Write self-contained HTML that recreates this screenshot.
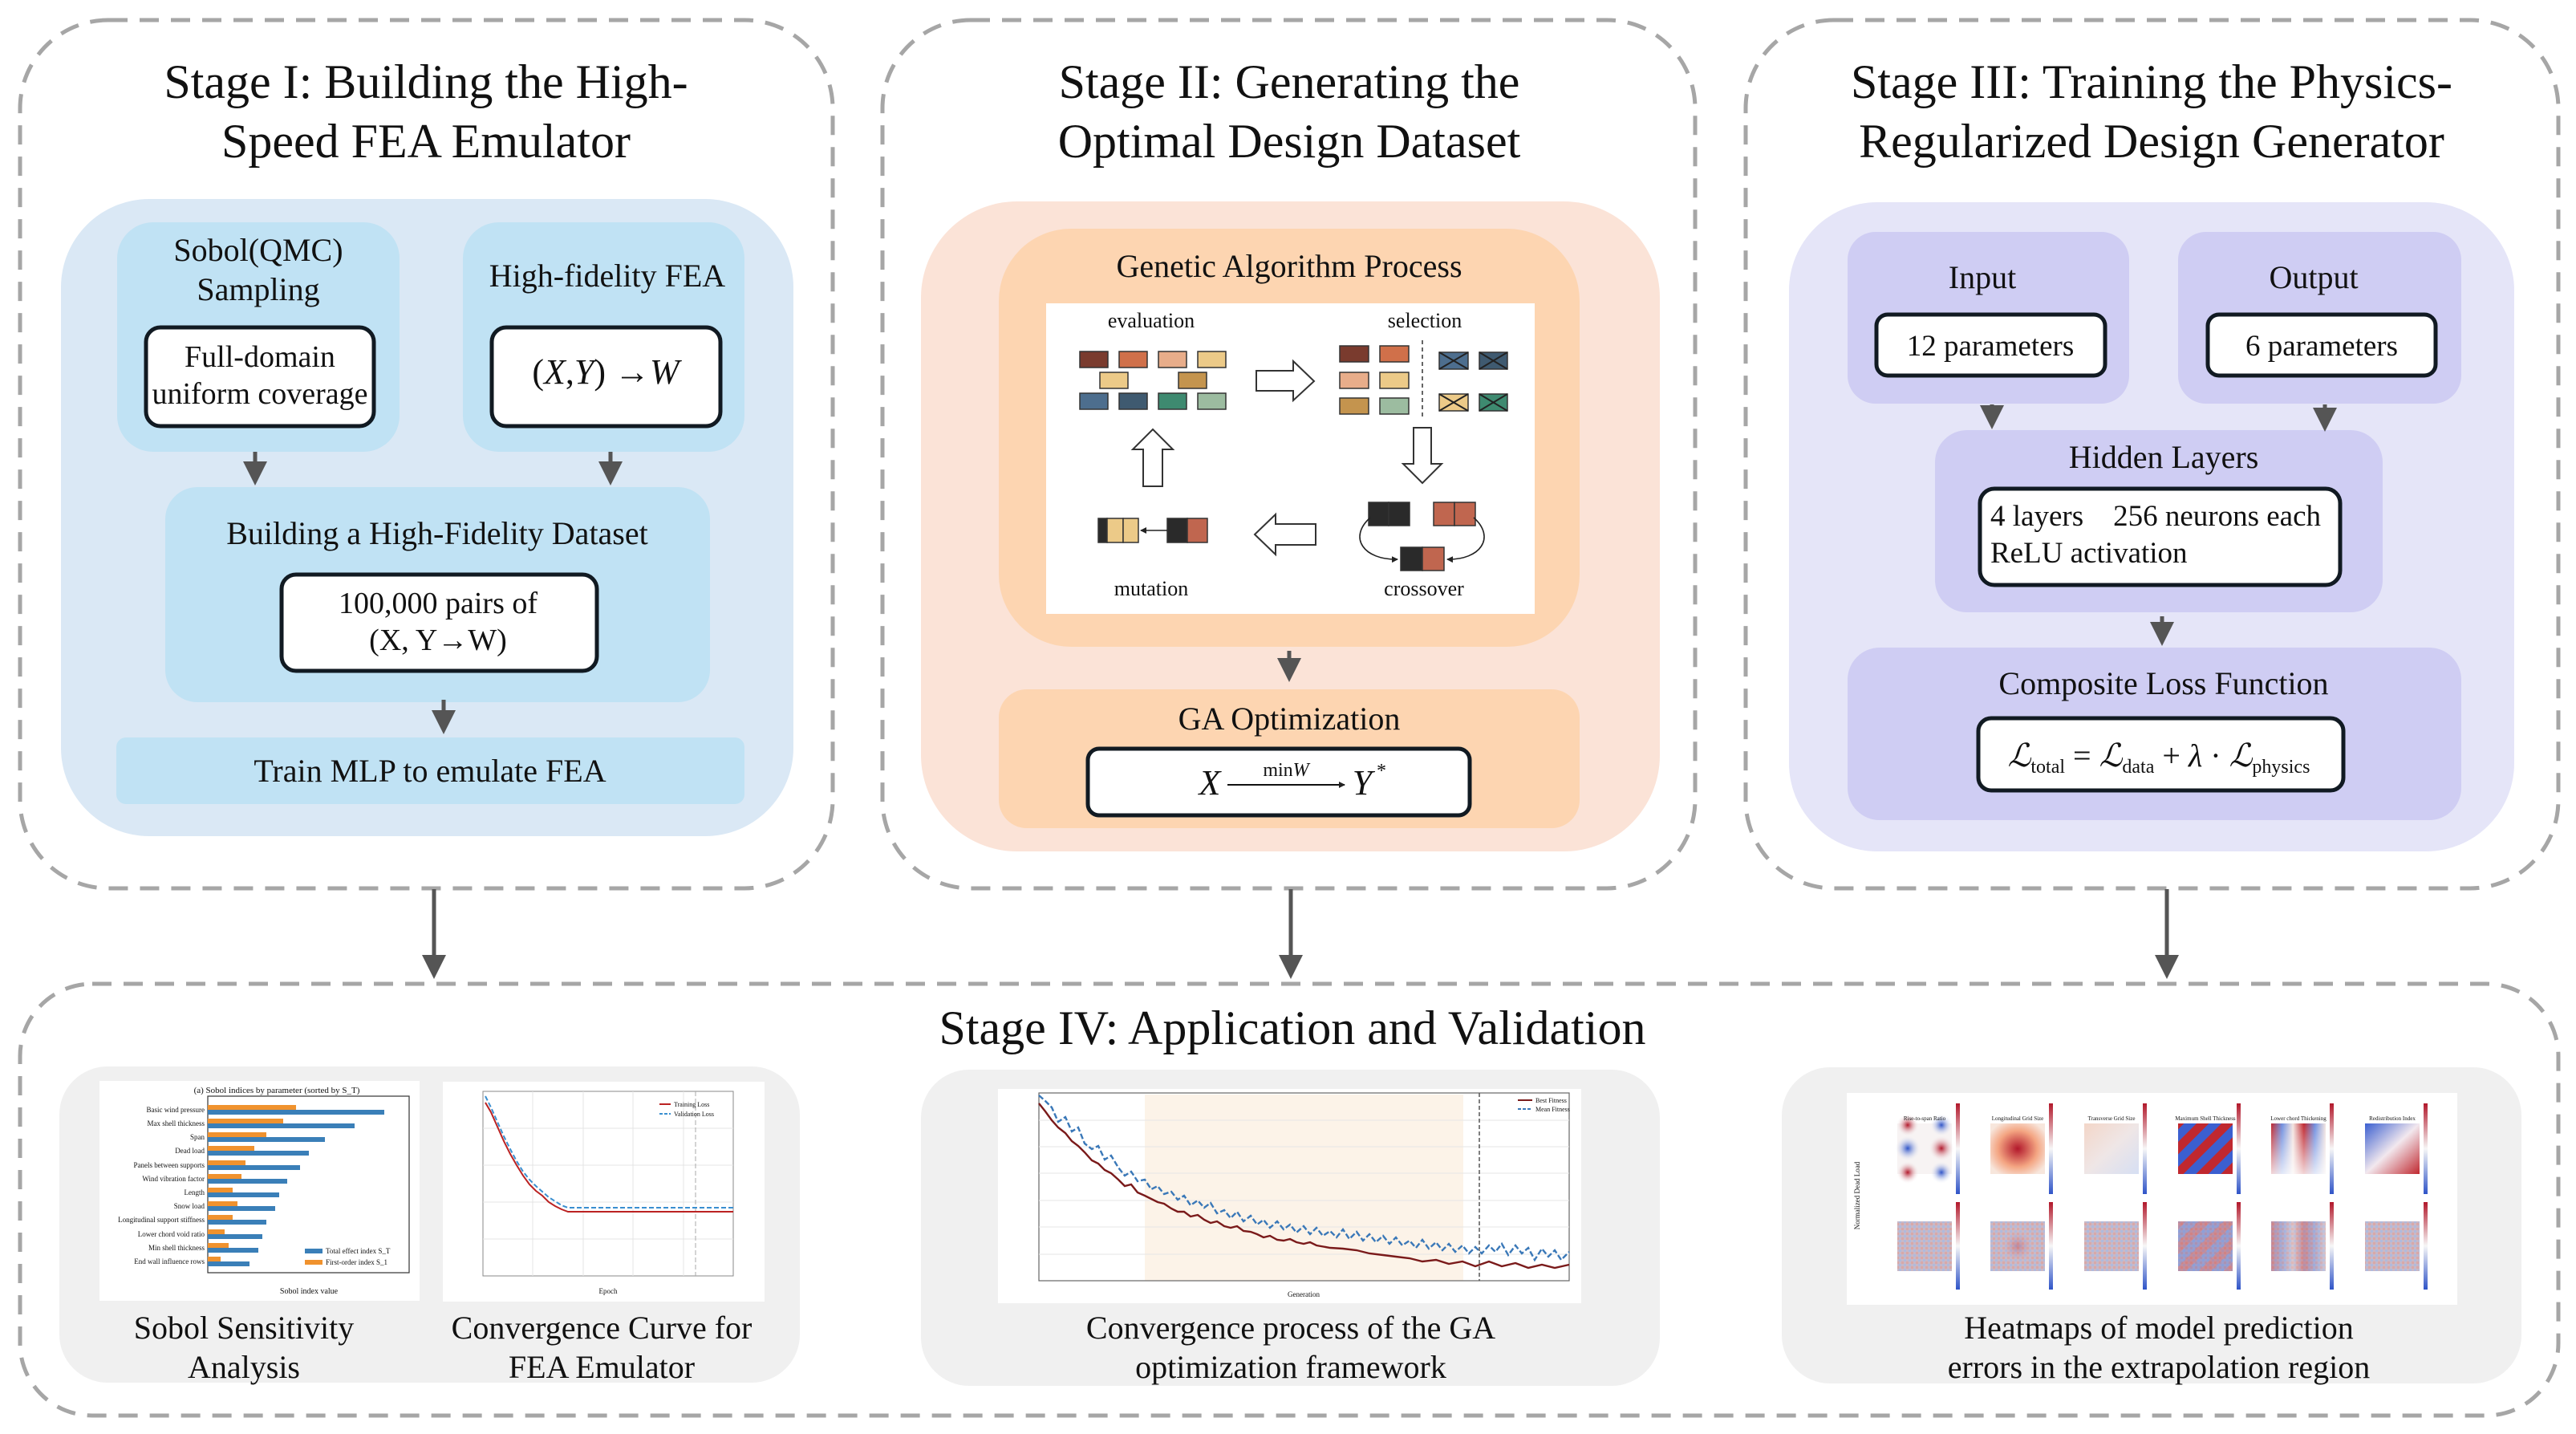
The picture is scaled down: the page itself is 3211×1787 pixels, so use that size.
<!DOCTYPE html>
<html><head><meta charset="utf-8"><style>
html,body{margin:0;padding:0;background:#fff}
svg{display:block;font-family:"Liberation Serif","Times New Roman",Times,serif}
text{fill:#111}
</style></head><body>
<svg width="3211" height="1787" viewBox="0 0 3211 1787" xmlns="http://www.w3.org/2000/svg" font-family="Liberation Serif, Times New Roman, serif">
<defs>
<marker id="ah" markerWidth="6" markerHeight="6" refX="5" refY="3" orient="auto" markerUnits="strokeWidth"><path d="M0,0 L6,3 L0,6 z" fill="#555"/></marker>
<marker id="sh" markerWidth="8" markerHeight="8" refX="7" refY="4" orient="auto" markerUnits="userSpaceOnUse"><path d="M0,0 L8,4 L0,8 z" fill="#222"/></marker>
<radialGradient id="rr"><stop offset="0" stop-color="#b2182b"/><stop offset="1" stop-color="#f7f7f7" stop-opacity="0"/></radialGradient>
<radialGradient id="bb"><stop offset="0" stop-color="#2f54c8"/><stop offset="1" stop-color="#f7f7f7" stop-opacity="0"/></radialGradient>
<radialGradient id="rc" cx="0.5" cy="0.5" r="0.6"><stop offset="0" stop-color="#b2182b"/><stop offset="0.6" stop-color="#f4a582"/><stop offset="1" stop-color="#f7e6dc"/></radialGradient>
<linearGradient id="cb" x1="0" y1="0" x2="0" y2="1"><stop offset="0" stop-color="#b2182b"/><stop offset="0.5" stop-color="#f7f7f7"/><stop offset="1" stop-color="#2f54c8"/></linearGradient>
<linearGradient id="diag" x1="0" y1="0" x2="1" y2="1"><stop offset="0" stop-color="#3b5fd0"/><stop offset="0.5" stop-color="#f2e8ee"/><stop offset="1" stop-color="#c0282f"/></linearGradient>
<linearGradient id="pale" x1="0" y1="0" x2="1" y2="1"><stop offset="0" stop-color="#f3d6c8"/><stop offset="0.5" stop-color="#efe6e6"/><stop offset="1" stop-color="#d6dff3"/></linearGradient>
<linearGradient id="vs" x1="0" y1="0" x2="1" y2="0"><stop offset="0" stop-color="#c0282f"/><stop offset="0.2" stop-color="#6f8fe0"/><stop offset="0.4" stop-color="#f3e4e0"/><stop offset="0.6" stop-color="#c0282f"/><stop offset="0.8" stop-color="#6f8fe0"/><stop offset="1" stop-color="#f3e4e0"/></linearGradient>
<linearGradient id="vfade" x1="0" y1="0" x2="0" y2="1"><stop offset="0" stop-color="#fff" stop-opacity="0"/><stop offset="1" stop-color="#fff" stop-opacity="0.8"/></linearGradient>
<pattern id="stripes" width="22" height="22" patternUnits="userSpaceOnUse" patternTransform="rotate(45)"><rect width="11" height="22" fill="#c0282f"/><rect x="11" width="11" height="22" fill="#3b5fd0"/></pattern>
<pattern id="noise" width="6" height="6" patternUnits="userSpaceOnUse"><rect width="6" height="6" fill="#c9b8c6"/><rect width="3" height="3" fill="#d8a8a8"/><rect x="3" y="3" width="3" height="3" fill="#b0badc"/></pattern>
</defs>

<g fill="none" stroke="#a6a6a6" stroke-width="5" stroke-dasharray="24 15">
<rect x="25" y="25" width="1013" height="1082" rx="110"/>
<rect x="1100" y="25" width="1013" height="1082" rx="110"/>
<rect x="2176" y="25" width="1013" height="1082" rx="110"/>
<rect x="25" y="1226" width="3164" height="538" rx="90"/>
</g>

<g font-size="60" text-anchor="middle">
<text x="531" y="122">Stage I: Building the High-</text>
<text x="531" y="196">Speed FEA Emulator</text>
<text x="1607" y="122">Stage II: Generating the</text>
<text x="1607" y="196">Optimal Design Dataset</text>
<text x="2682" y="122">Stage III: Training the Physics-</text>
<text x="2682" y="196">Regularized Design Generator</text>
<text x="1611" y="1301">Stage IV: Application and Validation</text>
</g>

<!-- Stage I -->
<rect x="76" y="248" width="913" height="794" rx="110" fill="#dae8f5"/>
<rect x="146" y="277" width="352" height="286" rx="45" fill="#c0e2f4"/>
<rect x="577" y="277" width="351" height="286" rx="45" fill="#c0e2f4"/>
<rect x="206" y="607" width="679" height="268" rx="40" fill="#c0e2f4"/>
<rect x="145" y="919" width="783" height="83" rx="12" fill="#c0e2f4"/>
<g fill="#fff" stroke="#111a22" stroke-width="5">
<rect x="182" y="408" width="284" height="123" rx="18"/>
<rect x="613" y="408" width="285" height="123" rx="18"/>
<rect x="351" y="716" width="393" height="120" rx="18"/>
</g>
<g font-size="40" text-anchor="middle">
<text x="322" y="325">Sobol(QMC)</text>
<text x="322" y="374">Sampling</text>
<text x="757" y="357">High-fidelity FEA</text>
<text x="545" y="678">Building a High-Fidelity Dataset</text>
<text x="536" y="974">Train MLP to emulate FEA</text>
</g>
<g font-size="38" text-anchor="middle">
<text x="324" y="457">Full-domain</text>
<text x="324" y="503">uniform coverage</text>
<text x="546" y="764">100,000 pairs of</text>
<text x="546" y="810">(X, Y→W)</text>
<text x="755" y="478" font-size="44"><tspan>(</tspan><tspan font-style="italic">X</tspan><tspan>,</tspan><tspan font-style="italic">Y</tspan><tspan>) →</tspan><tspan font-style="italic">W</tspan></text>
</g>
<g stroke="#555" stroke-width="5" marker-end="url(#ah)">
<line x1="318" y1="563" x2="318" y2="600"/>
<line x1="761" y1="563" x2="761" y2="600"/>
<line x1="553" y1="872" x2="553" y2="910"/>
</g>

<!-- Stage II -->
<rect x="1148" y="251" width="921" height="810" rx="120" fill="#fbe3d7"/>
<rect x="1245" y="285" width="724" height="521" rx="90" fill="#fdd5b1"/>
<rect x="1245" y="859" width="724" height="173" rx="35" fill="#fdd5b1"/>
<text x="1607" y="345" font-size="40" text-anchor="middle">Genetic Algorithm Process</text>
<text x="1607" y="909" font-size="40" text-anchor="middle">GA Optimization</text>
<rect x="1356" y="933" width="476" height="83" rx="14" fill="#fff" stroke="#111a22" stroke-width="5"/>
<text x="1508" y="990" font-size="44" font-style="italic" text-anchor="middle">X</text>
<line x1="1530" y1="978" x2="1676" y2="978" stroke="#111" stroke-width="2" marker-end="url(#sh)"/>
<text x="1603" y="967" font-size="24" text-anchor="middle">min<tspan font-style="italic">W</tspan></text>
<text x="1698" y="990" font-size="44" font-style="italic" text-anchor="middle">Y</text>
<text x="1716" y="968" font-size="24">*</text>
<line x1="1607" y1="811" x2="1607" y2="845" stroke="#555" stroke-width="5" marker-end="url(#ah)"/>

<rect x="1304" y="378" width="609" height="387" fill="#fff"/>
<g font-size="26" text-anchor="middle">
<text x="1435" y="408">evaluation</text>
<text x="1776" y="408">selection</text>
<text x="1435" y="742">mutation</text>
<text x="1775" y="742">crossover</text>
</g>
<g stroke="#333" stroke-width="1.5">
<rect x="1346" y="438" width="35" height="20" fill="#7a3b2e"/>
<rect x="1395" y="438" width="35" height="20" fill="#d0704a"/>
<rect x="1444" y="438" width="35" height="20" fill="#e8ad8a"/>
<rect x="1493" y="438" width="35" height="20" fill="#ecca88"/>
<rect x="1371" y="464" width="35" height="20" fill="#ecca88"/>
<rect x="1469" y="464" width="35" height="20" fill="#c4944e"/>
<rect x="1346" y="490" width="35" height="20" fill="#4d6e8e"/>
<rect x="1395" y="490" width="35" height="20" fill="#3f5a70"/>
<rect x="1444" y="490" width="35" height="20" fill="#3e8a70"/>
<rect x="1493" y="490" width="35" height="20" fill="#9cbca0"/>
<rect x="1670" y="431" width="36" height="20" fill="#7a3b2e"/>
<rect x="1720" y="431" width="36" height="20" fill="#d0704a"/>
<rect x="1670" y="464" width="36" height="20" fill="#e8ad8a"/>
<rect x="1720" y="464" width="36" height="20" fill="#ecca88"/>
<rect x="1670" y="496" width="36" height="20" fill="#c4944e"/>
<rect x="1720" y="496" width="36" height="20" fill="#9cbca0"/>
<rect x="1794" y="439" width="36" height="21" fill="#4d6e8e"/>
<rect x="1844" y="439" width="35" height="21" fill="#3f5a70"/>
<rect x="1794" y="491" width="36" height="21" fill="#ecca88"/>
<rect x="1844" y="491" width="35" height="21" fill="#3e8a70"/>
</g>
<g stroke="#222" stroke-width="2">
<line x1="1794" y1="439" x2="1830" y2="460"/><line x1="1830" y1="439" x2="1794" y2="460"/>
<line x1="1844" y1="439" x2="1879" y2="460"/><line x1="1879" y1="439" x2="1844" y2="460"/>
<line x1="1794" y1="491" x2="1830" y2="512"/><line x1="1830" y1="491" x2="1794" y2="512"/>
<line x1="1844" y1="491" x2="1879" y2="512"/><line x1="1879" y1="491" x2="1844" y2="512"/>
</g>
<line x1="1773" y1="424" x2="1773" y2="519" stroke="#333" stroke-width="1.5" stroke-dasharray="5 4"/>
<g fill="#fff" stroke="#333" stroke-width="2">
<polygon points="1566,462 1612,462 1612,450 1638,475 1612,499 1612,487 1566,487"/>
<polygon points="1762,533 1784,533 1784,578 1797,578 1773,602 1749,578 1762,578"/>
<polygon points="1640,653 1590,653 1590,641 1564,666 1590,691 1590,679 1640,679"/>
<polygon points="1425,606 1449,606 1449,560 1462,560 1437,535 1412,560 1425,560"/>
</g>
<g stroke="#333" stroke-width="1.5">
<rect x="1706" y="626" width="25" height="29" fill="#2a2a2a"/>
<rect x="1731" y="626" width="26" height="29" fill="#2a2a2a"/>
<rect x="1787" y="626" width="26" height="29" fill="#c0664f"/>
<rect x="1813" y="626" width="26" height="29" fill="#c0664f"/>
<rect x="1746" y="682" width="27" height="29" fill="#2a2a2a"/>
<rect x="1773" y="682" width="27" height="29" fill="#c0664f"/>
<rect x="1369" y="646" width="11" height="30" fill="#2a2a2a"/>
<rect x="1380" y="646" width="20" height="30" fill="#ecca88"/>
<rect x="1400" y="646" width="19" height="30" fill="#ecca88"/>
<rect x="1455" y="646" width="25" height="30" fill="#2a2a2a"/>
<rect x="1480" y="646" width="25" height="30" fill="#c0664f"/>
</g>
<g fill="none" stroke="#222" stroke-width="1.6" marker-end="url(#sh)">
<path d="M1708,645 C1680,670 1700,698 1742,697"/>
<path d="M1837,645 C1865,670 1845,698 1804,697"/>
<line x1="1455" y1="661" x2="1422" y2="661"/>
</g>

<!-- Stage III -->
<rect x="2230" y="252" width="904" height="809" rx="110" fill="#e5e5f8"/>
<rect x="2303" y="289" width="351" height="214" rx="35" fill="#cfcdf3"/>
<rect x="2715" y="289" width="353" height="214" rx="35" fill="#cfcdf3"/>
<rect x="2412" y="536" width="558" height="227" rx="40" fill="#cfcdf3"/>
<rect x="2303" y="807" width="765" height="215" rx="40" fill="#cfcdf3"/>
<g fill="#fff" stroke="#111a22" stroke-width="5">
<rect x="2339" y="392" width="285" height="76" rx="14"/>
<rect x="2752" y="392" width="284" height="76" rx="14"/>
<rect x="2468" y="609" width="449" height="120" rx="18"/>
<rect x="2466" y="895" width="455" height="90" rx="16"/>
</g>
<g font-size="40" text-anchor="middle">
<text x="2471" y="359">Input</text>
<text x="2884" y="359">Output</text>
<text x="2697" y="583">Hidden Layers</text>
<text x="2697" y="865">Composite Loss Function</text>
</g>
<g font-size="37">
<text x="2481" y="443" text-anchor="middle">12 parameters</text>
<text x="2894" y="443" text-anchor="middle">6 parameters</text>
<text x="2481" y="655" xml:space="preserve">4 layers    256 neurons each</text>
<text x="2481" y="701">ReLU activation</text>
</g>
<text x="2691" y="955" font-size="40" text-anchor="middle"><tspan font-style="italic">ℒ</tspan><tspan font-size="24" dy="8">total</tspan><tspan dy="-8"> = </tspan><tspan font-style="italic">ℒ</tspan><tspan font-size="24" dy="8">data</tspan><tspan dy="-8"> + </tspan><tspan font-style="italic">λ</tspan><tspan> · </tspan><tspan font-style="italic">ℒ</tspan><tspan font-size="24" dy="8">physics</tspan></text>
<g stroke="#555" stroke-width="5" marker-end="url(#ah)">
<line x1="2483" y1="504" x2="2483" y2="530"/>
<line x1="2898" y1="504" x2="2898" y2="533"/>
<line x1="2695" y1="768" x2="2695" y2="800"/>
</g>

<g stroke="#555" stroke-width="5" marker-end="url(#ah)">
<line x1="541" y1="1108" x2="541" y2="1215"/>
<line x1="1609" y1="1108" x2="1609" y2="1215"/>
<line x1="2701" y1="1108" x2="2701" y2="1215"/>
</g>

<rect x="74" y="1329" width="923" height="394" rx="60" fill="#f0f0f0"/>
<rect x="1148" y="1333" width="921" height="394" rx="60" fill="#f0f0f0"/>
<rect x="2221" y="1330" width="922" height="394" rx="60" fill="#f0f0f0"/>
<g font-size="40" text-anchor="middle">
<text x="304" y="1668">Sobol Sensitivity</text>
<text x="304" y="1717">Analysis</text>
<text x="750" y="1668">Convergence Curve for</text>
<text x="750" y="1717">FEA Emulator</text>
<text x="1609" y="1668">Convergence process of the GA</text>
<text x="1609" y="1717">optimization framework</text>
<text x="2691" y="1668">Heatmaps of model prediction</text>
<text x="2691" y="1717">errors in the extrapolation region</text>
</g>

<rect x="124" y="1347" width="399" height="274" fill="#fff"/>
<text x="345" y="1362" font-size="11" text-anchor="middle" fill="#333">(a) Sobol indices by parameter (sorted by S_T)</text>
<rect x="259" y="1366" width="251" height="220" fill="none" stroke="#333" stroke-width="1.2"/>
<g fill="#3a7fb8">
<rect x="259" y="1383" width="220" height="6"/><rect x="259" y="1400" width="183" height="6"/><rect x="259" y="1417" width="146" height="6"/><rect x="259" y="1434" width="126" height="6"/><rect x="259" y="1452" width="115" height="6"/><rect x="259" y="1469" width="99" height="6"/><rect x="259" y="1486" width="89" height="6"/><rect x="259" y="1503" width="84" height="6"/><rect x="259" y="1520" width="73" height="6"/><rect x="259" y="1538" width="68" height="6"/><rect x="259" y="1555" width="63" height="6"/><rect x="259" y="1572" width="52" height="6"/>
</g>
<g fill="#f0922e">
<rect x="259" y="1377" width="110" height="6"/><rect x="259" y="1394" width="94" height="6"/><rect x="259" y="1411" width="73" height="6"/><rect x="259" y="1428" width="58" height="6"/><rect x="259" y="1446" width="47" height="6"/><rect x="259" y="1463" width="42" height="6"/><rect x="259" y="1480" width="31" height="6"/><rect x="259" y="1497" width="37" height="6"/><rect x="259" y="1514" width="31" height="6"/><rect x="259" y="1532" width="21" height="6"/><rect x="259" y="1549" width="26" height="6"/><rect x="259" y="1566" width="16" height="6"/>
</g>
<g font-size="9" text-anchor="end" fill="#444">
<text x="255" y="1386">Basic wind pressure</text><text x="255" y="1403">Max shell thickness</text><text x="255" y="1420">Span</text><text x="255" y="1437">Dead load</text><text x="255" y="1455">Panels between supports</text><text x="255" y="1472">Wind vibration factor</text><text x="255" y="1489">Length</text><text x="255" y="1506">Snow load</text><text x="255" y="1523">Longitudinal support stiffness</text><text x="255" y="1541">Lower chord void ratio</text><text x="255" y="1558">Min shell thickness</text><text x="255" y="1575">End wall influence rows</text>
</g>
<rect x="380" y="1556" width="22" height="6" fill="#3a7fb8"/><rect x="380" y="1570" width="22" height="6" fill="#f0922e"/>
<text x="406" y="1562" font-size="9" fill="#444">Total effect index S_T</text>
<text x="406" y="1576" font-size="9" fill="#444">First-order index S_1</text>
<text x="385" y="1612" font-size="10" text-anchor="middle" fill="#444">Sobol index value</text>

<rect x="552" y="1348" width="401" height="274" fill="#fff"/>
<rect x="602" y="1360" width="312" height="230" fill="none" stroke="#888" stroke-width="1"/>
<g stroke="#e4e4e4" stroke-width="1"><line x1="664" y1="1360" x2="664" y2="1590"/><line x1="727" y1="1360" x2="727" y2="1590"/><line x1="789" y1="1360" x2="789" y2="1590"/><line x1="852" y1="1360" x2="852" y2="1590"/><line x1="602" y1="1406" x2="914" y2="1406"/><line x1="602" y1="1452" x2="914" y2="1452"/><line x1="602" y1="1498" x2="914" y2="1498"/><line x1="602" y1="1544" x2="914" y2="1544"/></g>
<line x1="867" y1="1360" x2="867" y2="1590" stroke="#aaa" stroke-dasharray="6 3"/>
<polyline fill="none" stroke="#b22" stroke-width="2" points="605,1374 612,1386 620,1404 628,1422 636,1438 644,1452 652,1465 660,1476 668,1484 676,1490 684,1498 692,1503 700,1507 708,1510 914,1510"/>
<polyline fill="none" stroke="#3a8fd0" stroke-width="2" stroke-dasharray="6 3" points="605,1366 612,1380 620,1398 628,1416 636,1432 644,1447 652,1460 660,1470 668,1478 676,1485 684,1492 692,1497 700,1502 708,1505 914,1505"/>
<line x1="822" y1="1376" x2="836" y2="1376" stroke="#b22" stroke-width="2"/><line x1="822" y1="1388" x2="836" y2="1388" stroke="#3a8fd0" stroke-width="2" stroke-dasharray="4 2"/>
<text x="840" y="1379" font-size="8" fill="#444">Training Loss</text><text x="840" y="1391" font-size="8" fill="#444">Validation Loss</text>
<text x="758" y="1612" font-size="9" text-anchor="middle" fill="#444">Epoch</text>

<rect x="1244" y="1357" width="727" height="267" fill="#fff"/>
<rect x="1427" y="1364" width="397" height="232" fill="#fcf3e8"/>
<rect x="1295" y="1362" width="661" height="234" fill="none" stroke="#666" stroke-width="1.2"/>
<g stroke="#e6e6e6" stroke-width="1"><line x1="1295" y1="1396" x2="1956" y2="1396"/><line x1="1295" y1="1429" x2="1956" y2="1429"/><line x1="1295" y1="1462" x2="1956" y2="1462"/><line x1="1295" y1="1496" x2="1956" y2="1496"/><line x1="1295" y1="1529" x2="1956" y2="1529"/><line x1="1295" y1="1563" x2="1956" y2="1563"/></g>
<line x1="1844" y1="1362" x2="1844" y2="1596" stroke="#555" stroke-width="1.5" stroke-dasharray="5 3"/>
<polyline fill="none" stroke="#3a78b8" stroke-width="2.4" stroke-dasharray="7 3" points="1295,1365 1303,1372 1311,1380 1319,1398 1328,1392 1336,1410 1344,1405 1352,1425 1361,1432 1369,1428 1377,1445 1385,1440 1394,1455 1402,1465 1410,1460 1418,1472 1427,1470 1435,1482 1443,1478 1451,1488 1460,1485 1468,1495 1476,1490 1484,1502 1493,1496 1501,1505 1509,1499 1517,1512 1526,1508 1534,1518 1542,1510 1550,1522 1559,1515 1567,1526 1575,1520 1583,1530 1592,1522 1600,1532 1608,1526 1616,1536 1625,1528 1633,1538 1641,1530 1649,1540 1658,1534 1666,1542 1674,1532 1682,1544 1691,1535 1699,1546 1707,1538 1715,1548 1724,1540 1732,1550 1740,1542 1748,1552 1757,1546 1765,1555 1773,1545 1781,1556 1790,1548 1798,1558 1806,1550 1814,1560 1823,1552 1831,1562 1839,1554 1847,1562 1856,1552 1864,1560 1872,1550 1880,1564 1889,1552 1897,1562 1905,1555 1913,1570 1922,1556 1930,1566 1938,1558 1946,1570 1956,1560"/>
<polyline fill="none" stroke="#7a1a1a" stroke-width="2.4" points="1295,1375 1303,1385 1311,1396 1319,1405 1328,1412 1336,1422 1344,1428 1352,1436 1361,1446 1369,1450 1377,1458 1385,1462 1394,1470 1402,1478 1410,1476 1418,1486 1427,1490 1435,1494 1443,1498 1451,1500 1460,1506 1468,1510 1476,1510 1484,1516 1493,1514 1501,1520 1509,1524 1517,1522 1526,1528 1534,1530 1542,1528 1550,1534 1559,1535 1567,1538 1575,1542 1583,1540 1592,1545 1600,1546 1608,1544 1616,1548 1625,1550 1633,1548 1641,1552 1658,1555 1674,1556 1691,1558 1707,1562 1724,1564 1740,1566 1757,1568 1773,1572 1790,1570 1806,1575 1823,1572 1839,1578 1856,1572 1872,1578 1889,1574 1905,1580 1922,1576 1938,1580 1956,1576"/>
<line x1="1892" y1="1371" x2="1910" y2="1371" stroke="#7a1a1a" stroke-width="2"/><line x1="1892" y1="1382" x2="1910" y2="1382" stroke="#3a78b8" stroke-width="2" stroke-dasharray="4 2"/>
<text x="1914" y="1374" font-size="8" fill="#444">Best Fitness</text><text x="1914" y="1385" font-size="8" fill="#444">Mean Fitness</text>
<text x="1625" y="1616" font-size="9" text-anchor="middle" fill="#444">Generation</text>

<rect x="2302" y="1362" width="761" height="264" fill="#fff"/>
<text x="2318" y="1490" font-size="9" fill="#555" transform="rotate(-90 2318 1490)" text-anchor="middle">Normalized Dead Load</text>
<rect x="2365" y="1400" width="68" height="63" fill="#f7f3f3"/>
<g><circle cx="2378" cy="1402" r="14" fill="url(#rr)"/><circle cx="2420" cy="1402" r="14" fill="url(#bb)"/><circle cx="2378" cy="1431" r="16" fill="url(#bb)"/><circle cx="2420" cy="1431" r="16" fill="url(#rr)"/><circle cx="2378" cy="1461" r="14" fill="url(#rr)"/><circle cx="2420" cy="1461" r="14" fill="url(#bb)"/></g>
<rect x="2481" y="1400" width="68" height="63" fill="url(#rc)"/>
<rect x="2598" y="1400" width="68" height="63" fill="url(#pale)"/>
<rect x="2715" y="1400" width="68" height="63" fill="url(#stripes)"/>
<rect x="2831" y="1400" width="68" height="63" fill="url(#vs)"/>
<rect x="2831" y="1400" width="68" height="63" fill="url(#vfade)"/>
<rect x="2948" y="1400" width="68" height="63" fill="url(#diag)"/>
<rect x="2365" y="1522" width="68" height="62" fill="url(#noise)"/>
<rect x="2481" y="1522" width="68" height="62" fill="url(#noise)"/>
<rect x="2598" y="1522" width="68" height="62" fill="url(#noise)"/>
<rect x="2715" y="1522" width="68" height="62" fill="url(#noise)"/>
<rect x="2831" y="1522" width="68" height="62" fill="url(#noise)"/>
<rect x="2948" y="1522" width="68" height="62" fill="url(#noise)"/>
<g opacity="0.3"><rect x="2715" y="1522" width="68" height="62" fill="url(#stripes)"/><rect x="2831" y="1522" width="68" height="62" fill="url(#vs)"/><circle cx="2515" cy="1553" r="25" fill="url(#rr)"/></g>
<g fill="url(#cb)">
<rect x="2438" y="1375" width="5" height="113"/><rect x="2554" y="1375" width="5" height="113"/><rect x="2671" y="1375" width="5" height="113"/><rect x="2788" y="1375" width="5" height="113"/><rect x="2904" y="1375" width="5" height="113"/><rect x="3021" y="1375" width="5" height="113"/>
<rect x="2438" y="1498" width="5" height="109"/><rect x="2554" y="1498" width="5" height="109"/><rect x="2671" y="1498" width="5" height="109"/><rect x="2788" y="1498" width="5" height="109"/><rect x="2904" y="1498" width="5" height="109"/><rect x="3021" y="1498" width="5" height="109"/>
</g>
<g font-size="7" fill="#333" text-anchor="middle">
<text x="2399" y="1396">Rise-to-span Ratio</text><text x="2515" y="1396">Longitudinal Grid Size</text><text x="2632" y="1396">Transverse Grid Size</text><text x="2749" y="1396">Maximum Shell Thickness</text><text x="2865" y="1396">Lower chord Thickening</text><text x="2982" y="1396">Redistribution Index</text>
</g>
</svg>
</body></html>
